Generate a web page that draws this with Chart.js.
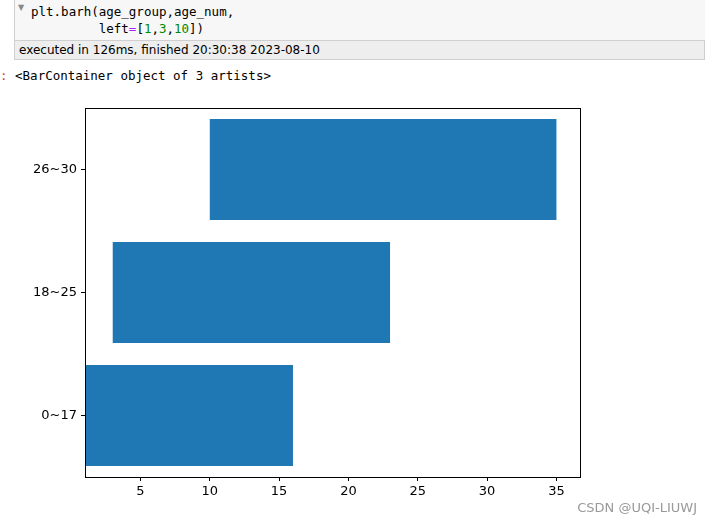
<!DOCTYPE html>
<html>
<head>
<meta charset="utf-8">
<script src="https://cdn.jsdelivr.net/npm/chart.js@4"></script>
<style>
  body { margin: 0; width: 705px; height: 526px; background: #fff; position: relative; overflow: hidden; font-family: "DejaVu Sans", sans-serif; }
  #cell { position: absolute; left: 14px; top: 0; width: 691px; height: 40px; background: #f7f7f7; border: 1px solid #cfcfcf; border-top: none; }
  #code { position: absolute; left: 16px; top: 3px; font: 12.5px "DejaVu Sans Mono", monospace; line-height: 17px; white-space: pre; color: #000; }
  #arrow { position: absolute; left: 3px; top: 3px; font-size: 8px; color: #888; }
  #exec { position: absolute; left: 14px; top: 41px; width: 691px; height: 19px; background: #eeeeee; border: 1px solid #cfcfcf; border-top: none; font-size: 12px; line-height: 19px; padding-left: 4px; box-sizing: border-box; color: #000; }
  #out { position: absolute; left: 0; top: 68px; font: 12.5px "DejaVu Sans Mono", monospace; white-space: pre; }
  #wrap { position: absolute; left: 0; top: 90px; width: 705px; height: 417px; }
  #wm { position: absolute; right: 8px; top: 500px; font-size: 13px; color: #999; }
</style>
</head>
<body>
<div id="cell"><span id="arrow">▼</span><div id="code">plt.barh(age_group,age_num,
         <span style="color:#000">left</span><span style="color:#aa22ff">=</span>[<span style="color:#080">1</span>,<span style="color:#080">3</span>,<span style="color:#080">10</span>])</div></div>
<div id="exec">executed in 126ms, finished 20:30:38 2023-08-10</div>
<div id="out"><span style="color:#d84315">:</span> &lt;BarContainer object of 3 artists&gt;</div>
<div id="wrap"><canvas id="myChart"></canvas></div>
<div id="wm">CSDN @UQI-LIUWJ</div>
<script>
// data (top to bottom)
const ageGroup = ["26~30", "18~25", "0~17"];
const ageLeft = [10, 3, 1];
const ageNum = [25, 20, 15];
const xTicks = [5, 10, 15, 20, 25, 30, 35];

const data = ageGroup.map((g, i) => [ageLeft[i], ageLeft[i] + ageNum[i]]);

const boxPlugin = {
  id: "box",
  afterDraw(chart) {
    const a = chart.chartArea, ctx = chart.ctx;
    ctx.save();
    ctx.strokeStyle = "#000";
    ctx.lineWidth = 1;
    ctx.strokeRect(Math.round(a.left) + 0.5, Math.round(a.top) + 0.5, Math.round(a.right - a.left), Math.round(a.bottom - a.top));
    ctx.restore();
  }
};

new Chart(document.getElementById("myChart"), {
  type: "bar",
  data: {
    labels: ageGroup,
    datasets: [{ data, backgroundColor: "#1f77b4", borderWidth: 0, barPercentage: 0.82, categoryPercentage: 1 }]
  },
  options: {
    indexAxis: "y",
    responsive: true,
    maintainAspectRatio: false,
    animation: false,
    layout: { padding: { top: 18, right: 125, left: 0, bottom: 0 } },
    plugins: { legend: { display: false }, tooltip: { enabled: false } },
    scales: {
      x: {
        min: 1, max: 36.7,
        afterBuildTicks: (s) => { s.ticks = xTicks.map(v => ({ value: v })); },
        afterFit: (s) => { s.height = 30; },
        grid: { drawOnChartArea: false, tickLength: 4, color: "#000" },
        border: { color: "#000" },
        ticks: { color: "#000", font: { family: "DejaVu Sans", size: 13 }, padding: 3 }
      },
      y: {
        offset: true,
        afterFit: (s) => { s.width = 85; },
        grid: { drawOnChartArea: false, tickLength: 4, color: "#000", offset: false },
        border: { color: "#000" },
        ticks: { color: "#000", font: { family: "DejaVu Sans", size: 13 }, padding: 4 }
      }
    }
  },
  plugins: [boxPlugin]
});
</script>
</body>
</html>
